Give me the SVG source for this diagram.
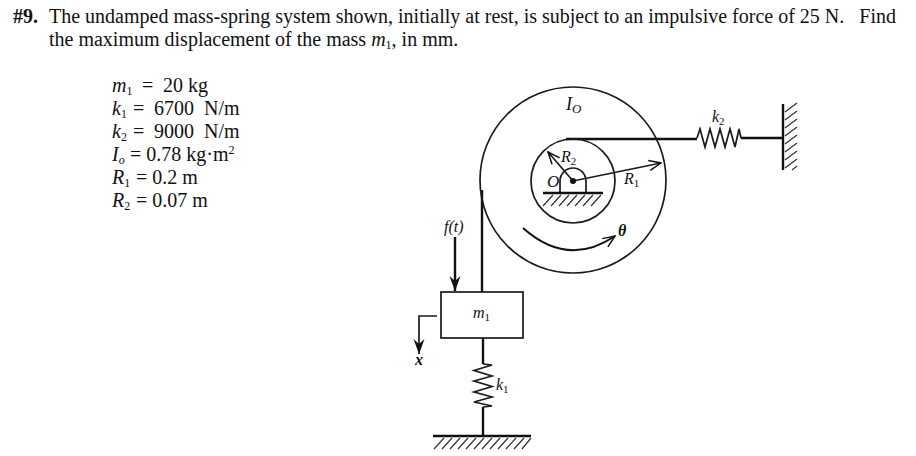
<svg xmlns="http://www.w3.org/2000/svg" width="916" height="456" viewBox="0 0 916 456">
<style>
text{font-family:"Liberation Serif","Times New Roman",serif;fill:#111}
.t{font-size:20px}
.l{font-size:16px;font-style:italic}
.sub{font-size:11px;font-style:normal}
.isub{font-size:11px;font-style:italic}
.i{font-style:italic}
.s{fill:none;stroke:#1a1a1a;stroke-width:1.7}
.b{fill:none;stroke:#111;stroke-width:2.4}
.h{fill:none;stroke:#333;stroke-width:1.2}
</style>
<defs>
<marker id="open" viewBox="0 0 14 12" refX="13" refY="6" markerWidth="14" markerHeight="12" markerUnits="userSpaceOnUse" orient="auto"><path d="M1 1 L13 6 L1 11" fill="none" stroke="#111" stroke-width="1.5"/></marker>
<marker id="big" viewBox="0 0 16 12" refX="15" refY="6" markerWidth="16" markerHeight="12" markerUnits="userSpaceOnUse" orient="auto"><path d="M0 0.5 L15 6 L0 11.5 L5 6 Z" fill="#111"/></marker>
</defs>
<rect width="916" height="456" fill="#fff"/>
<g id="problem">
<text class="t" x="13" y="23" font-weight="bold">#9.</text>
<text class="t" x="49" y="23" textLength="847" lengthAdjust="spacing">The undamped mass-spring system shown, initially at rest, is subject to an impulsive force of 25 N.&#160;&#160;&#160;Find</text>
<text class="t" x="49" y="46">the maximum displacement of the mass <tspan class="i">m</tspan><tspan font-size="12" dy="3">1</tspan><tspan dy="-3">, in mm.</tspan></text>
</g>
<g id="givens">
<text class="t" x="112" y="92"><tspan class="i">m</tspan><tspan font-size="12" dy="3">1</tspan><tspan dy="-3" x="142">=</tspan><tspan x="163">20 kg</tspan></text>
<text class="t" x="112" y="115"><tspan class="i">k</tspan><tspan font-size="12" dy="3">1</tspan><tspan dy="-3" x="133">=</tspan><tspan x="154">6700&#160;&#160;N/m</tspan></text>
<text class="t" x="112" y="138"><tspan class="i">k</tspan><tspan font-size="12" dy="3">2</tspan><tspan dy="-3" x="133">=</tspan><tspan x="154">9000&#160;&#160;N/m</tspan></text>
<text class="t" x="112" y="161"><tspan class="i">I</tspan><tspan class="i" font-size="12" dy="3">o</tspan><tspan dy="-3" x="130">= 0.78 kg·m</tspan><tspan font-size="12" dy="-7">2</tspan></text>
<text class="t" x="112" y="184"><tspan class="i">R</tspan><tspan font-size="12" dy="3">1</tspan><tspan dy="-3" x="136">= 0.2 m</tspan></text>
<text class="t" x="112" y="207"><tspan class="i">R</tspan><tspan font-size="12" dy="3">2</tspan><tspan dy="-3" x="136">= 0.07 m</tspan></text>
</g>
<g id="connectors">
<path class="b" d="M566 139 H697"/>
<path class="b" d="M741 138 H783"/>
<path class="b" d="M482 190 V292"/>
<path class="b" d="M483 338 V364"/>
<path class="b" d="M483 407 V436"/>
<path class="b" d="M455 237 V291" marker-end="url(#big)" stroke-width="3"/>
<path class="s" d="M437 316 H419 V354" marker-end="url(#big)"/>
<path class="s" d="M573 181 L661 163" marker-end="url(#open)"/>
<path class="s" d="M573 181 L548 152" marker-end="url(#open)"/>
<path d="M523 228 Q568 268 615 236" fill="none" stroke="#111" stroke-width="2" marker-end="url(#open)"/>
</g>
<g id="disk">
<circle class="s" cx="573" cy="180" r="93"/>
<circle class="s" cx="573" cy="181" r="42"/>
<text class="l" x="566" y="110" font-size="18" style="font-size:18px">I<tspan class="isub" dy="3" style="font-size:13px">O</tspan></text>
<text class="l" x="561" y="162">R<tspan class="sub" dy="3">2</tspan></text>
<text class="l" x="624" y="184">R<tspan class="sub" dy="3">1</tspan></text>
<text class="l" x="547" y="187" style="font-size:17px">O</text>
<text class="l" x="618" y="236" font-weight="bold">θ</text>
</g>
<g id="hub">
<path class="s" d="M560 193 V181 A13 13 0 0 1 586 181 V193"/>
<path class="b" d="M543 193 H603"/>
<circle cx="573" cy="181" r="3" fill="#111"/>
<path class="h" d="M543 206 L553 195 M551 206 L561 195 M559 206 L569 195 M567 206 L577 195 M575 206 L585 195 M583 206 L593 195 M591 206 L601 195"/>
</g>
<g id="spring-k2">
<path class="s" d="M697 138 L700 129 L705 147 L710 129 L715 147 L720 129 L725 147 L730 129 L735 147 L739 129 L741 138"/>
<text class="l" x="712" y="122">k<tspan class="sub" dy="3">2</tspan></text>
</g>
<g id="wall">
<path class="b" d="M783 104 V170"/>
<path class="h" d="M785 112 L797 103 M785 120 L797 111 M785 128 L797 119 M785 136 L797 127 M785 144 L797 135 M785 152 L797 143 M785 160 L797 151 M785 168 L797 159 M792 170 L797 166"/>
</g>
<g id="mass-m1">
<rect class="s" x="441" y="292" width="82" height="46" fill="#fff"/>
<text class="l" x="473" y="318">m<tspan class="sub" dy="3">1</tspan></text>
</g>
<g id="spring-k1">
<path class="s" d="M483 364 L492 365 L474 370.500 L492 376 L474 381 L492 386.500 L474 392 L492 397 L474 402 L492 406 L483 407"/>
<text class="l" x="496" y="390">k<tspan class="sub" dy="3">1</tspan></text>
</g>
<g id="ground">
<path class="b" d="M433 436 H531"/>
<path class="h" d="M434 449 L444 438 M442 449 L452 438 M450 449 L460 438 M458 449 L468 438 M466 449 L476 438 M474 449 L484 438 M482 449 L492 438 M490 449 L500 438 M498 449 L508 438 M506 449 L516 438 M514 449 L524 438 M522 449 L531 438"/>
</g>
<g id="labels">
<text class="l" x="444" y="232">f(t)</text>
<text class="l" x="415" y="365" font-weight="bold">x</text>
</g>
</svg>
